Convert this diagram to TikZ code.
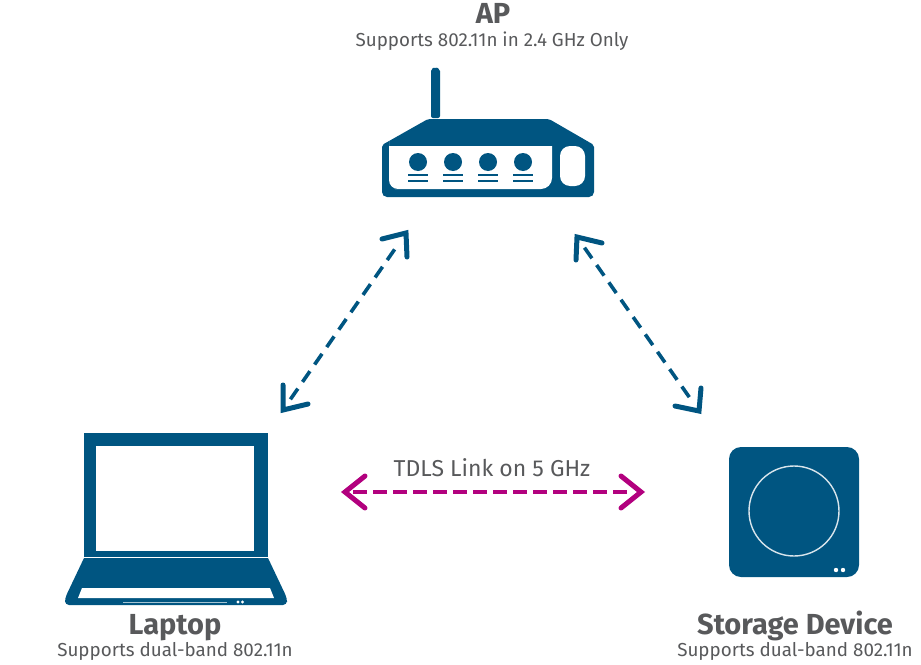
\documentclass[tikz,border=0pt]{standalone}
\usepackage{fontspec}
\setmainfont{Fira Sans}
\usetikzlibrary{calc}
\definecolor{devblue}{HTML}{005581}
\definecolor{linkpink}{HTML}{B2007E}
\definecolor{labelgray}{HTML}{58595B}
\tikzset{
  x=1pt,y=-1pt,
  devfill/.style={fill=devblue,draw=none},
  hole/.style={fill=white,draw=none},
  title/.style={text=labelgray,inner sep=0pt,font=\fontsize{29}{31}\selectfont\bfseries},
  sub/.style={text=labelgray,inner sep=0pt,font=\fontsize{18.8}{21}\selectfont},
  linktext/.style={text=labelgray,inner sep=0pt,font=\fontsize{23}{25}\selectfont},
  wifi/.style={draw=devblue,line width=3.6pt,dash pattern=on 13pt off 8.2pt,shorten <=13pt,shorten >=13pt},
  wifihead/.style={draw=devblue,line width=5pt,line cap=round,miter limit=10},
  tdls/.style={draw=linkpink,line width=4.2pt,dash pattern=on 14pt off 6pt,shorten <=8pt,shorten >=8pt},
  tdlshead/.style={draw=linkpink,line width=5pt,line cap=round,miter limit=10},
}
\begin{document}
\begin{tikzpicture}
\useasboundingbox (0,0) rectangle (921,664);
% router
\fill[devfill,rounded corners=2pt] (431,118) -- (431,69) -- (435,67) -- (440,69) -- (440,118) -- cycle;
\fill[devfill,rounded corners=2pt] (428,119) -- (549,119) -- (594,145) [rounded corners=5pt] -- (594,197) -- (382,197) [rounded corners=2pt] -- (382,145) -- cycle;
\fill[hole] (389,146) -- (552,146) -- (552,178) [rounded corners=11pt] -- (552,189) -- (406,189) [rounded corners=9pt] -- (389,189) -- (389,146) [sharp corners] -- cycle;
\fill[hole,rounded corners=10pt] (560,146) rectangle (585,186);
\foreach \cx in {418,453,488,523}{
  \fill[devfill] (\cx,162) circle[radius=9];
  \fill[devfill] (\cx-10,174.2) rectangle (\cx+10,176.2);
  \fill[devfill] (\cx-10,180) rectangle (\cx+10,182);
}
% laptop
\fill[devfill] (84,433) rectangle (268,557);
\fill[hole] (96,446) rectangle (254,551);
\fill[devfill] (84,558) -- (268,558) [rounded corners=4pt] -- (287,598) -- (287,605) -- (65,605) -- (65,598) [sharp corners] -- cycle;
\fill[hole] (82,588) -- (270,588) -- (274,598) -- (78,598) -- cycle;
\draw[white!65!devblue,line width=.8pt] (123,602) -- (227,602);
\fill[white] (238,602) circle[radius=1.6] (242.5,602) circle[radius=1.6];
% storage
\fill[devfill,rounded corners=12pt] (729,447) rectangle (859,577);
\draw[white!85!devblue,line width=1.4pt] (794,511) circle[radius=45];
\fill[white] (836,570) circle[radius=2.2] (843,570) circle[radius=2.2];
% labels
\node[title,anchor=base] (aptitle) at (493,23) {AP};
\node[sub,anchor=base] (apsub) at (492,46) {Supports 802.11n in 2.4 GHz Only};
\node[title,anchor=base] (laptoptitle) at (175,634) {Laptop};
\node[sub,anchor=base] (laptopsub) at (175,656) {Supports dual-band 802.11n};
\node[title,anchor=base] (storagetitle) at (795,634) {Storage Device};
\node[sub,anchor=base] (storagesub) at (795,656) {Supports dual-band 802.11n};
\node[linktext,anchor=base] (linklabel) at (492,476) {TDLS Link on 5 GHz};
% link ends
\coordinate (apA) at (406,233);
\coordinate (apB) at (577,237);
\coordinate (lapEnd) at (283,410);
\coordinate (stoEnd) at (699,411);
\coordinate (lapLink) at (345,492);
\coordinate (stoLink) at (641,492);
\draw[wifi] (lapEnd) -- (apA);
\draw[wifi] (apB) -- (stoEnd);
\draw[tdls] (lapLink) -- (stoLink);
\draw[wifihead] ($(apA)+(-24,6)$) -- (apA) -- ($(apA)+(1,24)$);
\draw[wifihead] ($(lapEnd)+(0,-25)$) -- (lapEnd) -- ($(lapEnd)+(25,-6)$);
\draw[wifihead] ($(apB)+(25,6)$) -- (apB) -- ($(apB)+(-1,23)$);
\draw[wifihead] ($(stoEnd)+(-24,-5)$) -- (stoEnd) -- ($(stoEnd)+(2,-23)$);
\draw[tdlshead] ($(lapLink)+(20,-16)$) -- (lapLink) -- ($(lapLink)+(20,16)$);
\draw[tdlshead] ($(stoLink)+(-20,-16)$) -- (stoLink) -- ($(stoLink)+(-20,16)$);
\end{tikzpicture}
\end{document}
